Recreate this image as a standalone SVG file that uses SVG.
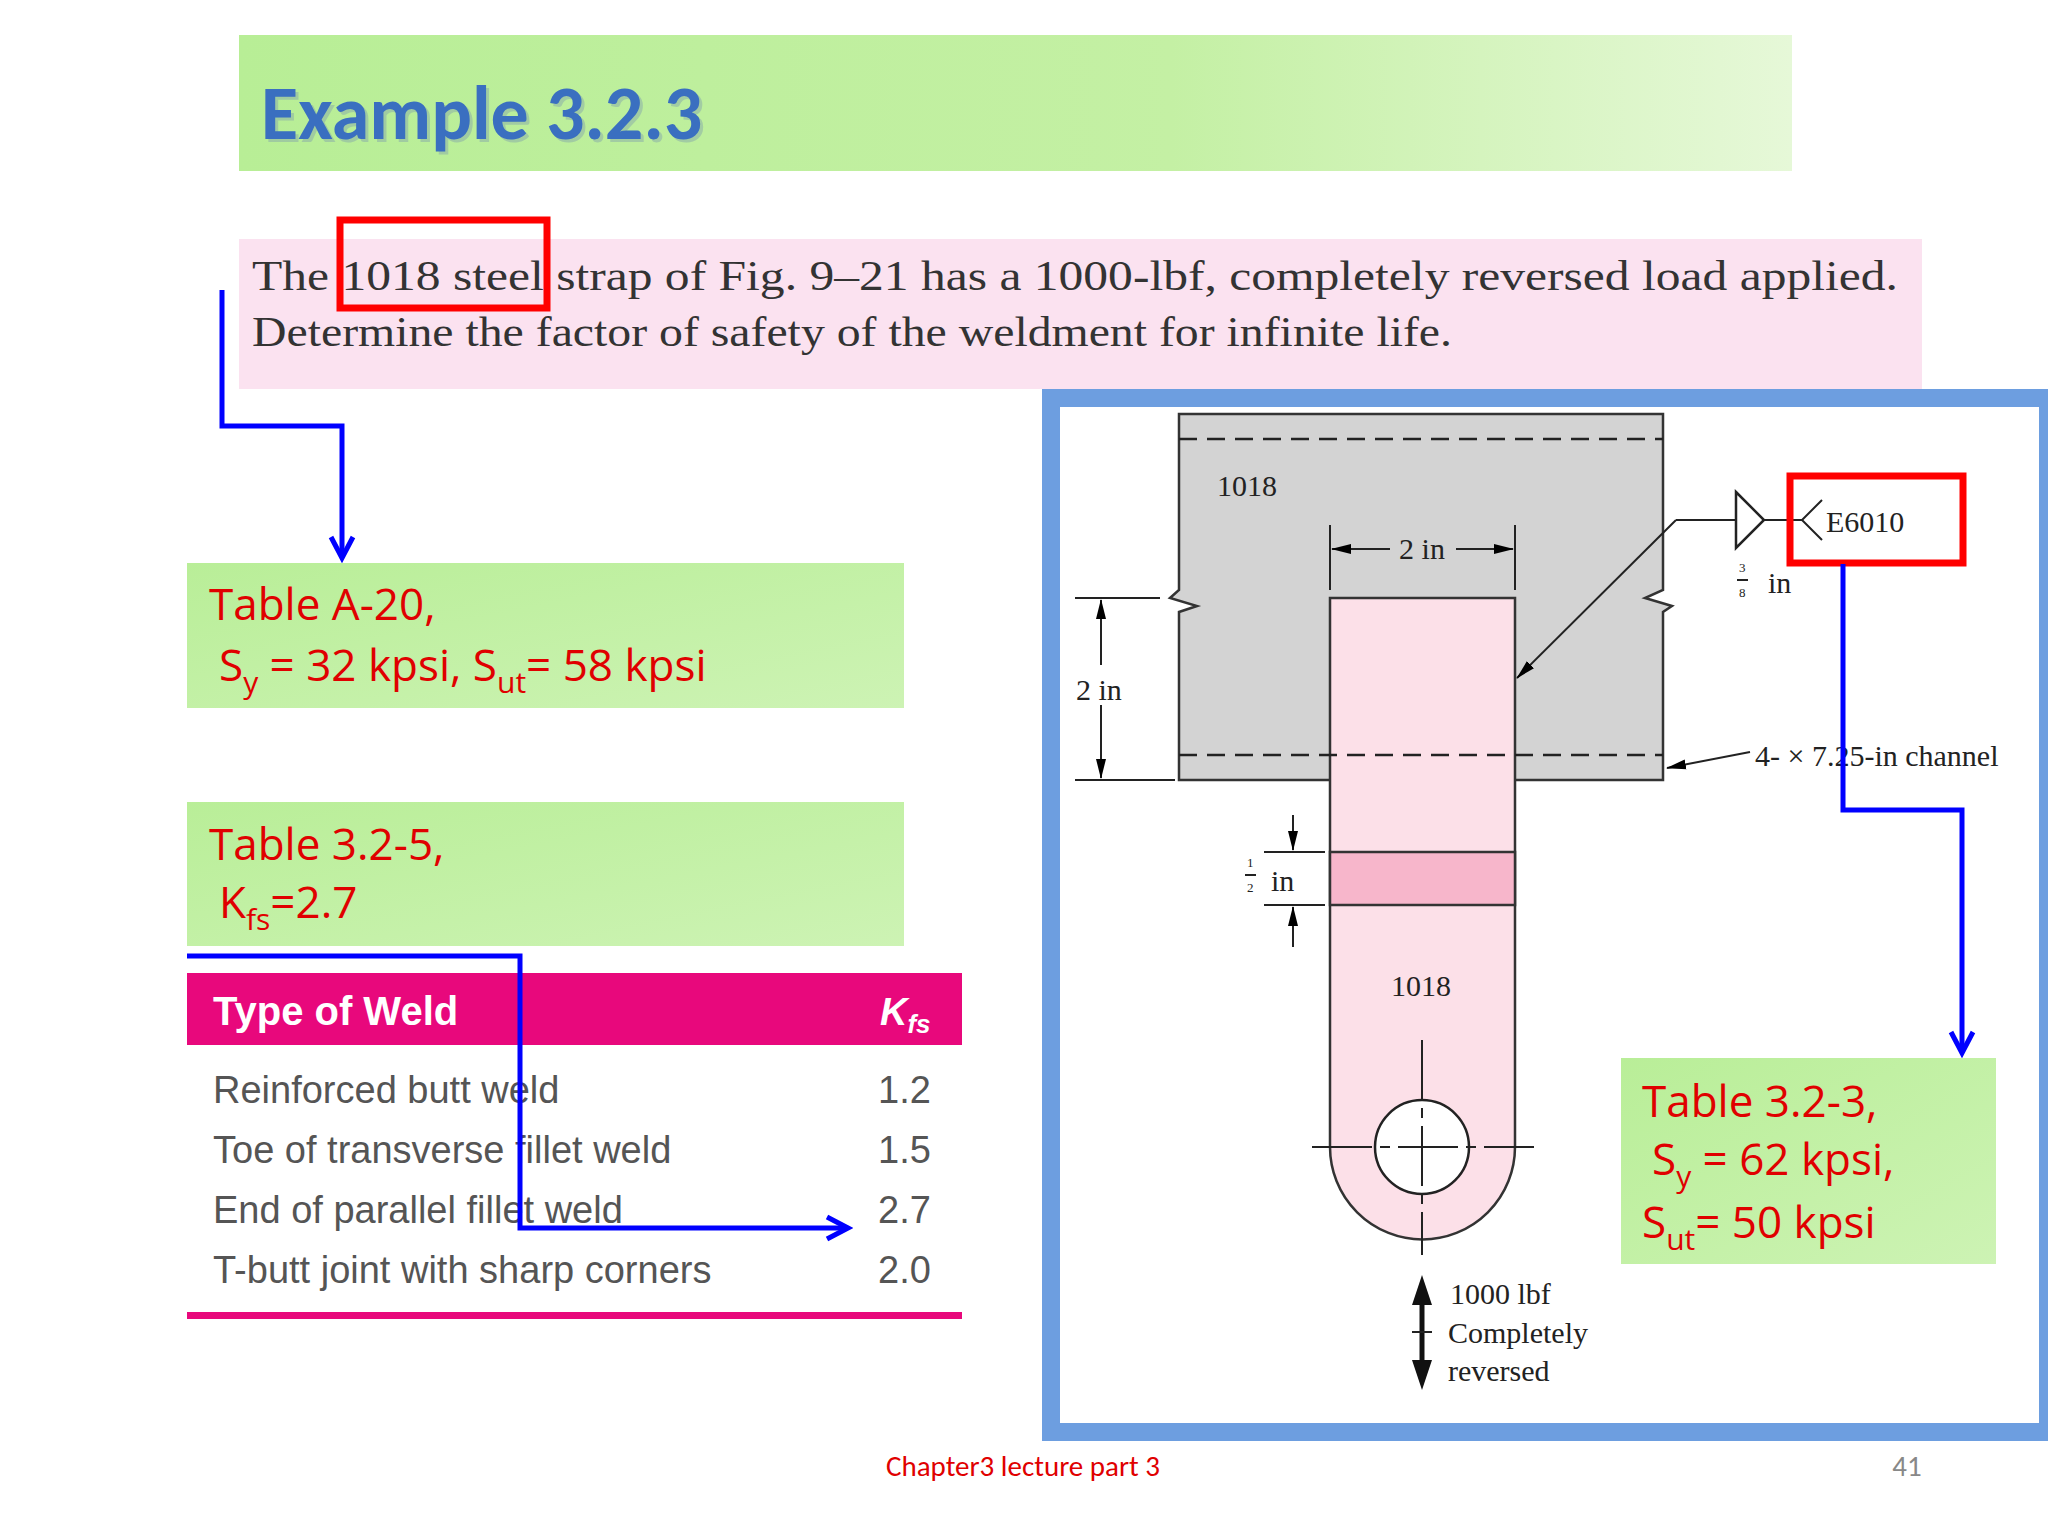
<svg xmlns="http://www.w3.org/2000/svg" width="2048" height="1536" viewBox="0 0 2048 1536">
<defs>
<linearGradient id="tg" x1="0" x2="1" y1="0" y2="0"><stop offset="0" stop-color="#b8ee96"/><stop offset="0.6" stop-color="#c4f0a4"/><stop offset="1" stop-color="#e6f8d8"/></linearGradient>
<linearGradient id="gb" x1="0" x2="1" y1="0" y2="1"><stop offset="0" stop-color="#b9ee98"/><stop offset="1" stop-color="#cdf3b4"/></linearGradient>
<marker id="ba" markerWidth="30" markerHeight="30" refX="24" refY="15" orient="auto" markerUnits="userSpaceOnUse" viewBox="0 0 30 30"><path d="M4,4 L25,15 L4,26" fill="none" stroke="#0000ff" stroke-width="5"/></marker>
<marker id="ka" markerWidth="20" markerHeight="12" refX="19" refY="6" orient="auto" markerUnits="userSpaceOnUse"><path d="M0,1 L20,6 L0,11 z" fill="#000"/></marker>
<style>
.tb{font-family:"Liberation Serif",serif;font-size:42px;fill:#333}
.r{font-family:"Open Sans","Liberation Sans",sans-serif;font-size:44px;fill:#e00000}
.sub{font-size:30px}
.bl{fill:none;stroke:#0000ff;stroke-width:5}
.fig{font-family:"Liberation Serif",serif;font-size:30px;fill:#222}
.fr{font-family:"Liberation Serif",serif;font-size:13px;fill:#222}
.row{font-family:"Liberation Sans",sans-serif;font-size:38px;fill:#555}
.k{stroke:#222;stroke-width:2;fill:none}
.dash{stroke:#222;stroke-width:2.5;stroke-dasharray:18 10}
</style>
</defs>
<rect width="2048" height="1536" fill="#fff"/>
<g id="title"><rect x="239" y="35" width="1553" height="136" fill="url(#tg)"/>
<text x="264" y="142" font-family="Calibri,'Liberation Sans',sans-serif" font-weight="bold" font-size="76" fill="#8aa" opacity="0.5">Example 3.2.3</text>
<text x="261" y="139" font-family="Calibri,'Liberation Sans',sans-serif" font-weight="bold" font-size="76" fill="#3a6fc0">Example 3.2.3</text></g>
<g id="problem"><rect x="239" y="239" width="1683" height="150" fill="#fbe2f0"/>
<text class="tb" x="252" y="290" textLength="1646" lengthAdjust="spacingAndGlyphs">The 1018 steel strap of Fig. 9–21 has a 1000-lbf, completely reversed load applied.</text>
<text class="tb" x="252" y="346" textLength="1200" lengthAdjust="spacingAndGlyphs">Determine the factor of safety of the weldment for infinite life.</text>
<rect x="340" y="220" width="207" height="88" fill="none" stroke="#f00" stroke-width="7"/></g>
<g id="boxA20"><rect x="187" y="563" width="717" height="145" fill="url(#gb)"/>
<text class="r" x="209" y="620">Table A-20,</text>
<text class="r" x="219" y="681">S<tspan class="sub" dy="12">y</tspan><tspan dy="-12"> = 32 kpsi,  S</tspan><tspan class="sub" dy="12">ut</tspan><tspan dy="-12">= 58 kpsi</tspan></text></g>
<g id="box325"><rect x="187" y="802" width="717" height="144" fill="url(#gb)"/>
<text class="r" x="209" y="860">Table 3.2-5,</text>
<text class="r" x="219" y="918">K<tspan class="sub" dy="12">fs</tspan><tspan dy="-12">=2.7</tspan></text></g>
<g id="table"><rect x="187" y="973" width="775" height="72" fill="#e8087c"/>
<text x="213" y="1025" font-family="'Liberation Sans',sans-serif" font-weight="bold" font-size="40" fill="#fff">Type of Weld</text>
<text x="880" y="1025" font-family="'Liberation Sans',sans-serif" font-weight="bold" font-style="italic" font-size="38" fill="#fff">K<tspan font-size="26" dy="8">fs</tspan></text>
<text class="row" x="213" y="1103">Reinforced butt weld</text><text class="row" x="878" y="1103">1.2</text>
<text class="row" x="213" y="1163">Toe of transverse fillet weld</text><text class="row" x="878" y="1163">1.5</text>
<text class="row" x="213" y="1223">End of parallel fillet weld</text><text class="row" x="878" y="1223">2.7</text>
<text class="row" x="213" y="1283">T-butt joint with sharp corners</text><text class="row" x="878" y="1283">2.0</text>
<rect x="187" y="1312" width="775" height="7" fill="#e8087c"/></g>
<g id="figure">
<rect x="1051" y="398" width="997" height="1034" fill="#fff" stroke="#6d9ee0" stroke-width="18"/>
<path d="M1179,414 H1663 V590 L1645,598 L1672,606 L1663,612 V780 H1179 V612 L1197,606 L1170,598 L1179,590 Z" fill="#d3d3d3" stroke="#333" stroke-width="2.5"/>
<line class="dash" x1="1179" y1="439" x2="1663" y2="439"/>
<path d="M1330,598 H1515 V1147 A92.5,92.5 0 0 1 1330,1147 Z" fill="#fce0e8" stroke="#333" stroke-width="2.5"/>
<rect x="1330" y="852" width="185" height="53" fill="#f7b6cb" stroke="#333" stroke-width="2.5"/>
<line class="dash" x1="1179" y1="755" x2="1663" y2="755"/>
<circle cx="1422" cy="1147" r="47" fill="#fff" stroke="#222" stroke-width="2.5"/>
<line class="k" x1="1312" y1="1147" x2="1534" y2="1147" stroke-dasharray="60 8 10 8"/>
<line class="k" x1="1422" y1="1040" x2="1422" y2="1255" stroke-dasharray="60 8 10 8"/>
<text class="fig" x="1217" y="496">1018</text>
<text class="fig" x="1391" y="996">1018</text>
<line class="k" x1="1330" y1="525" x2="1330" y2="590"/><line class="k" x1="1515" y1="525" x2="1515" y2="590"/>
<line class="k" x1="1390" y1="549" x2="1332" y2="549" marker-end="url(#ka)"/><line class="k" x1="1456" y1="549" x2="1513" y2="549" marker-end="url(#ka)"/>
<text class="fig" x="1422" y="559" text-anchor="middle">2 in</text>
<line class="k" x1="1075" y1="598" x2="1160" y2="598"/><line class="k" x1="1075" y1="780" x2="1175" y2="780"/>
<line class="k" x1="1101" y1="665" x2="1101" y2="600" marker-end="url(#ka)"/><line class="k" x1="1101" y1="705" x2="1101" y2="778" marker-end="url(#ka)"/>
<text class="fig" x="1076" y="700">2 in</text>
<line class="k" x1="1676" y1="520" x2="1517" y2="678" marker-end="url(#ka)"/>
<polyline class="k" points="1676,520 1802,520"/>
<path d="M1736,492 L1764,520 L1736,548 Z" fill="#fff" stroke="#222" stroke-width="2.5"/>
<polyline class="k" points="1822,500 1802,520 1822,540" stroke-width="2.5"/>
<text class="fig" x="1826" y="532">E6010</text>
<text class="fr" x="1739" y="572">3</text><line class="k" x1="1737" y1="580" x2="1748" y2="580" stroke-width="1.5"/><text class="fr" x="1739" y="597">8</text>
<text class="fig" x="1768" y="593">in</text>
<line class="k" x1="1750" y1="752" x2="1667" y2="768" marker-end="url(#ka)"/>
<text class="fig" x="1755" y="766">4- × 7.25-in channel</text>
<line class="k" x1="1264" y1="852" x2="1325" y2="852"/><line class="k" x1="1264" y1="905" x2="1325" y2="905"/>
<line class="k" x1="1293" y1="815" x2="1293" y2="850" marker-end="url(#ka)"/><line class="k" x1="1293" y1="947" x2="1293" y2="907" marker-end="url(#ka)"/>
<text class="fr" x="1247" y="867">1</text><line class="k" x1="1245" y1="875" x2="1256" y2="875" stroke-width="1.5"/><text class="fr" x="1247" y="892">2</text>
<text class="fig" x="1271" y="891">in</text>
<line x1="1422" y1="1300" x2="1422" y2="1365" stroke="#111" stroke-width="5"/>
<path d="M1422,1275 L1432,1305 L1412,1305 Z M1422,1390 L1432,1360 L1412,1360 Z" fill="#111"/>
<line class="k" x1="1412" y1="1332" x2="1432" y2="1332"/>
<text class="fig" x="1450" y="1304">1000 lbf</text>
<text class="fig" x="1448" y="1343">Completely</text>
<text class="fig" x="1448" y="1381">reversed</text>
<rect x="1790" y="476" width="173" height="87" fill="none" stroke="#f00" stroke-width="7"/>
</g>
<g id="box323"><rect x="1621" y="1058" width="375" height="206" fill="url(#gb)"/>
<text class="r" x="1642" y="1117">Table 3.2-3,</text>
<text class="r" x="1652" y="1175">S<tspan class="sub" dy="12">y</tspan><tspan dy="-12"> = 62 kpsi,</tspan></text>
<text class="r" x="1642" y="1238">S<tspan class="sub" dy="12">ut</tspan><tspan dy="-12">= 50 kpsi</tspan></text></g>
<g id="connectors">
<polyline class="bl" points="222,290 222,426 342,426 342,557" marker-end="url(#ba)"/>
<polyline class="bl" points="187,956 520,956 520,1228 847,1228" marker-end="url(#ba)"/>
<polyline class="bl" points="1843,564 1843,810 1962,810 1962,1052" marker-end="url(#ba)"/>
</g>
<g id="footer">
<text x="1023" y="1476" text-anchor="middle" font-family="Calibri,'Liberation Sans',sans-serif" font-size="29" fill="#e00000">Chapter3 lecture part 3</text>
<text x="1907" y="1476" text-anchor="middle" font-family="Calibri,'Liberation Sans',sans-serif" font-size="29" fill="#888">41</text></g>
</svg>
